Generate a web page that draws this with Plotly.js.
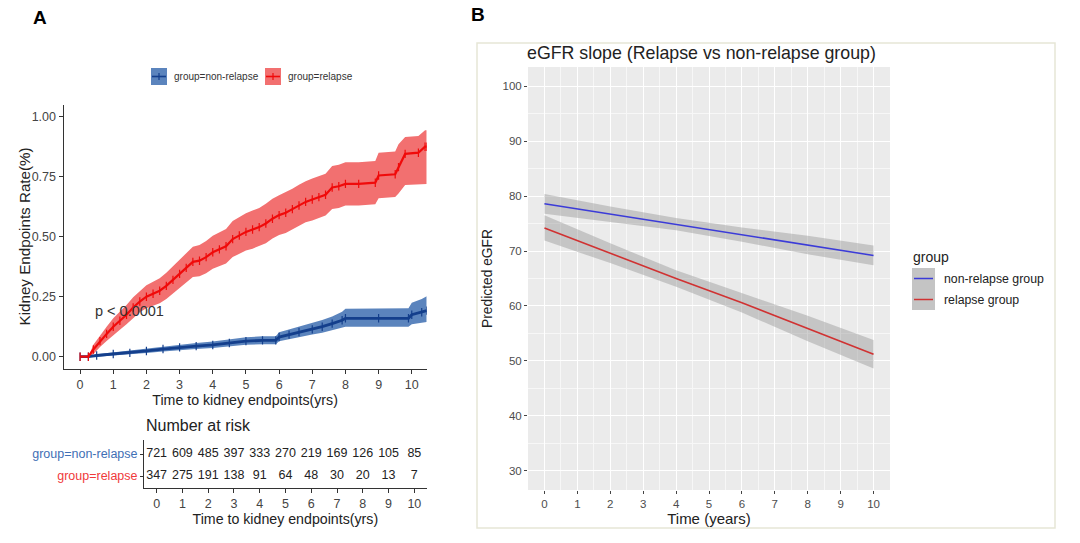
<!DOCTYPE html>
<html><head><meta charset="utf-8">
<script src="https://cdn.plot.ly/plotly-3.0.1.min.js"></script>
<style>body{margin:0;background:#fff}#chart{width:1080px;height:543px}</style>
</head><body><div id="chart"></div>
<script>
// ---------- Panel A: Kaplan-Meier cumulative incidence ----------
const timesNonRelapse = [0, 0.25, 0.5, 1.0, 1.5, 2.0, 2.5, 3.0, 3.5, 4.0, 4.5, 5.0, 5.5, 5.9, 6.0, 6.3, 6.6, 7.0, 7.3, 7.6, 7.9, 8.0, 9.0, 9.9, 10.0, 10.3, 10.45];
const rateNonRelapse  = [0, 0, 0.005, 0.011, 0.016, 0.024, 0.032, 0.039, 0.044, 0.049, 0.057, 0.065, 0.068, 0.068, 0.082, 0.092, 0.103, 0.114, 0.125, 0.138, 0.152, 0.16, 0.16, 0.16, 0.175, 0.185, 0.192];
const upperNonRelapse = [0, 0, 0.01, 0.018, 0.024, 0.034, 0.043, 0.051, 0.057, 0.063, 0.072, 0.081, 0.085, 0.085, 0.102, 0.114, 0.127, 0.14, 0.153, 0.168, 0.187, 0.2, 0.2, 0.202, 0.225, 0.24, 0.252];
const lowerNonRelapse = [0, 0, 0.0, 0.005, 0.009, 0.015, 0.022, 0.028, 0.032, 0.036, 0.043, 0.05, 0.052, 0.052, 0.064, 0.073, 0.083, 0.092, 0.1, 0.11, 0.12, 0.125, 0.125, 0.125, 0.135, 0.14, 0.145];

const timesRelapse = [0, 0.25, 0.4, 0.6, 0.8, 1.0, 1.2, 1.4, 1.6, 1.8, 2.0, 2.2, 2.4, 2.6, 2.8, 3.0, 3.2, 3.4, 3.6, 3.8, 4.0, 4.2, 4.4, 4.6, 4.8, 5.0, 5.2, 5.4, 5.6, 5.8, 6.0, 6.2, 6.4, 6.6, 6.8, 7.0, 7.2, 7.4, 7.6, 7.8, 8.0, 8.4, 8.9, 9.0, 9.5, 9.6, 9.8, 10.2, 10.4, 10.45];
const rateRelapse  = [0, 0, 0.03, 0.065, 0.095, 0.125, 0.15, 0.175, 0.205, 0.23, 0.25, 0.262, 0.275, 0.295, 0.32, 0.345, 0.37, 0.395, 0.4, 0.415, 0.435, 0.447, 0.46, 0.49, 0.505, 0.52, 0.53, 0.54, 0.555, 0.575, 0.59, 0.6, 0.615, 0.63, 0.645, 0.655, 0.665, 0.675, 0.705, 0.71, 0.72, 0.72, 0.725, 0.755, 0.76, 0.79, 0.845, 0.85, 0.875, 0.875];
const upperRelapse = [0, 0, 0.05, 0.09, 0.125, 0.16, 0.188, 0.215, 0.248, 0.275, 0.298, 0.312, 0.327, 0.35, 0.377, 0.404, 0.431, 0.458, 0.465, 0.482, 0.504, 0.518, 0.532, 0.565, 0.582, 0.598, 0.609, 0.62, 0.637, 0.658, 0.673, 0.685, 0.7, 0.716, 0.731, 0.742, 0.752, 0.762, 0.795, 0.8, 0.81, 0.81, 0.815, 0.85, 0.855, 0.885, 0.915, 0.92, 0.944, 0.944];
const lowerRelapse = [0, 0, 0.01, 0.04, 0.065, 0.09, 0.112, 0.135, 0.162, 0.185, 0.202, 0.212, 0.223, 0.24, 0.263, 0.286, 0.309, 0.332, 0.335, 0.348, 0.366, 0.376, 0.388, 0.415, 0.428, 0.442, 0.45, 0.46, 0.473, 0.492, 0.507, 0.515, 0.53, 0.545, 0.56, 0.568, 0.578, 0.588, 0.615, 0.62, 0.63, 0.63, 0.635, 0.66, 0.665, 0.68, 0.715, 0.72, 0.72, 0.72];

// Number-at-risk table
const riskTimes = [0, 1, 2, 3, 4, 5, 6, 7, 8, 9, 10];
const riskNonRelapse = [721, 609, 485, 397, 333, 270, 219, 169, 126, 105, 85];
const riskRelapse = [347, 275, 191, 138, 91, 64, 48, 30, 20, 13, 7];
const riskRowLabels = ['group=relapse', 'group=non-relapse'];

// ---------- Panel B: eGFR slope ----------
const slopeYears = [0, 2, 4, 6, 8, 10];
const egfrNonRelapse = [78.6, 76.7, 74.9, 73.0, 71.1, 69.2];
const egfrNonRelapseUpper = [80.4, 78.1, 76.0, 74.3, 72.8, 71.0];
const egfrNonRelapseLower = [76.8, 75.3, 73.8, 71.7, 69.4, 67.4];
const egfrRelapse = [74.2, 69.6, 65.0, 60.6, 55.9, 51.2];
const egfrRelapseUpper = [76.5, 71.4, 66.5, 62.4, 58.2, 53.8];
const egfrRelapseLower = [71.9, 67.8, 63.5, 58.8, 53.6, 48.6];

const W = 1080, H = 543;
const px = x => x / W, py = y => 1 - y / H;

const BLUE_LINE = '#143F8C', BLUE_BAND = '#5B84BD';
const RED_LINE = '#F00A0A', RED_BAND = '#F27070';
const GREY_BAND = 'rgba(150,150,150,0.45)';

const skip = {hoverinfo: 'skip', showlegend: false};
const traces = [
  Object.assign({x: timesNonRelapse, y: lowerNonRelapse, mode: 'lines', line: {width: 0}, xaxis: 'x', yaxis: 'y'}, skip),
  Object.assign({x: timesNonRelapse, y: upperNonRelapse, mode: 'lines', fill: 'tonexty', fillcolor: BLUE_BAND, line: {width: 0}, xaxis: 'x', yaxis: 'y'}, skip),
  Object.assign({x: timesRelapse, y: lowerRelapse, mode: 'lines', line: {width: 0}, xaxis: 'x', yaxis: 'y'}, skip),
  Object.assign({x: timesRelapse, y: upperRelapse, mode: 'lines', fill: 'tonexty', fillcolor: RED_BAND, line: {width: 0}, xaxis: 'x', yaxis: 'y'}, skip),
  Object.assign({x: timesNonRelapse, y: rateNonRelapse, mode: 'lines+markers', line: {width: 2.8, color: BLUE_LINE},
    marker: {symbol: 'line-ns-open', size: 6, line: {width: 1.2, color: BLUE_LINE}}, xaxis: 'x', yaxis: 'y'}, skip),
  Object.assign({x: timesRelapse, y: rateRelapse, mode: 'lines+markers', line: {width: 2.2, color: RED_LINE},
    marker: {symbol: 'line-ns-open', size: 6, line: {width: 1.2, color: RED_LINE}}, xaxis: 'x', yaxis: 'y'}, skip),
  Object.assign({x: riskTimes, y: riskTimes.map(() => 1), text: riskNonRelapse.map(String), mode: 'text', textfont: {size: 12.5, color: '#222', family: 'Liberation Sans, Arial'}, xaxis: 'x2', yaxis: 'y2'}, skip),
  Object.assign({x: riskTimes, y: riskTimes.map(() => 0), text: riskRelapse.map(String), mode: 'text', textfont: {size: 12.5, color: '#222', family: 'Liberation Sans, Arial'}, xaxis: 'x2', yaxis: 'y2'}, skip),
  Object.assign({x: slopeYears, y: egfrNonRelapseLower, mode: 'lines', line: {width: 0}, xaxis: 'x3', yaxis: 'y3'}, skip),
  Object.assign({x: slopeYears, y: egfrNonRelapseUpper, mode: 'lines', fill: 'tonexty', fillcolor: GREY_BAND, line: {width: 0}, xaxis: 'x3', yaxis: 'y3'}, skip),
  Object.assign({x: slopeYears, y: egfrRelapseLower, mode: 'lines', line: {width: 0}, xaxis: 'x3', yaxis: 'y3'}, skip),
  Object.assign({x: slopeYears, y: egfrRelapseUpper, mode: 'lines', fill: 'tonexty', fillcolor: GREY_BAND, line: {width: 0}, xaxis: 'x3', yaxis: 'y3'}, skip),
  Object.assign({x: slopeYears, y: egfrNonRelapse, mode: 'lines', line: {width: 1.6, color: '#3B3BD8'}, xaxis: 'x3', yaxis: 'y3'}, skip),
  Object.assign({x: slopeYears, y: egfrRelapse, mode: 'lines', line: {width: 1.6, color: '#D03232'}, xaxis: 'x3', yaxis: 'y3'}, skip)
];

const FONT = 'Liberation Sans, Arial, sans-serif';
const axA = {
  showline: true, linecolor: '#333', linewidth: 1, ticks: 'outside', ticklen: 4, tickcolor: '#333',
  tickfont: {size: 12.5, color: '#444'}, showgrid: false, zeroline: false
};
const axB = {
  showline: false, ticks: 'outside', ticklen: 3, tickcolor: '#444', tickwidth: 1,
  tickfont: {size: 11.5, color: '#4D4D4D'}, showgrid: true, gridcolor: '#FFFFFF', gridwidth: 1.1, zeroline: false
};

const layout = {
  width: W, height: H, margin: {l: 0, r: 0, t: 0, b: 0},
  paper_bgcolor: '#FFFFFF', plot_bgcolor: 'rgba(0,0,0,0)',
  font: {family: FONT, color: '#222'},
  showlegend: false,
  xaxis: Object.assign({}, axA, {domain: [px(63.5), px(426.7)], range: [-0.5, 10.45], tickvals: riskTimes, anchor: 'y',
    title: {text: 'Time to kidney endpoints(yrs)', font: {size: 14.2, color: '#222'}, standoff: 1}}),
  yaxis: Object.assign({}, axA, {domain: [py(368.7), py(104.7)], range: [-0.05, 1.05], tickvals: [0, 0.25, 0.5, 0.75, 1], ticktext: ['0.00', '0.25', '0.50', '0.75', '1.00'], anchor: 'x'}),
  xaxis2: Object.assign({}, axA, {domain: [px(144), px(426.7)], range: [-0.49, 10.48], tickvals: riskTimes, anchor: 'y2',
    title: {text: 'Time to kidney endpoints(yrs)', font: {size: 14.2, color: '#222'}, standoff: 1}}),
  yaxis2: Object.assign({}, axA, {domain: [py(488), py(440)], range: [-0.545, 1.636], tickvals: [0, 1], anchor: 'x2',
    ticklen: 3,
    ticktext: ['<span style="color:#F0393B">' + riskRowLabels[0] + '</span>', '<span style="color:#3F6FB5">' + riskRowLabels[1] + '</span>']}),
  xaxis3: Object.assign({}, axB, {domain: [px(528), px(890)], range: [-0.5, 10.5], dtick: 1, tick0: 0, anchor: 'y3',
    minor: {dtick: 0.5, tick0: 0, showgrid: true, gridcolor: '#F7F7F7', gridwidth: 0.6},
    title: {text: 'Time (years)', font: {size: 15, color: '#222'}, standoff: 3}}),
  yaxis3: Object.assign({}, axB, {domain: [py(490), py(67)], range: [26.5, 103.5], dtick: 10, tick0: 0, anchor: 'x3',
    minor: {dtick: 5, tick0: 0, showgrid: true, gridcolor: '#F7F7F7', gridwidth: 0.6},
    title: {text: 'Predicted eGFR', font: {size: 13.8, color: '#222'}, standoff: 6}}),
  shapes: [
    {type: 'rect', xref: 'x3 domain', yref: 'y3 domain', x0: 0, x1: 1, y0: 0, y1: 1, fillcolor: '#EBEBEB', line: {width: 0}, layer: 'below'},
    {type: 'rect', xref: 'paper', yref: 'paper', x0: px(477), x1: px(1055), y0: py(528), y1: py(43), line: {color: '#E6E6D6', width: 1.5}, fillcolor: 'rgba(0,0,0,0)', layer: 'below'},
    // legend A keys
    {type: 'rect', xref: 'paper', yref: 'paper', x0: px(151), x1: px(167), y0: py(85), y1: py(68), fillcolor: BLUE_BAND, line: {width: 0}},
    {type: 'line', xref: 'paper', yref: 'paper', x0: px(152), x1: px(166), y0: py(76.5), y1: py(76.5), line: {color: BLUE_LINE, width: 1.6}},
    {type: 'line', xref: 'paper', yref: 'paper', x0: px(159), x1: px(159), y0: py(73), y1: py(80), line: {color: BLUE_LINE, width: 1.2}},
    {type: 'rect', xref: 'paper', yref: 'paper', x0: px(265), x1: px(281), y0: py(85), y1: py(68), fillcolor: RED_BAND, line: {width: 0}},
    {type: 'line', xref: 'paper', yref: 'paper', x0: px(266), x1: px(280), y0: py(76.5), y1: py(76.5), line: {color: RED_LINE, width: 1.6}},
    {type: 'line', xref: 'paper', yref: 'paper', x0: px(273), x1: px(273), y0: py(73), y1: py(80), line: {color: RED_LINE, width: 1.2}},
    // legend B keys
    {type: 'rect', xref: 'paper', yref: 'paper', x0: px(912), x1: px(935), y0: py(289), y1: py(268), fillcolor: '#C4C4C4', line: {width: 0}},
    {type: 'line', xref: 'paper', yref: 'paper', x0: px(914), x1: px(933), y0: py(278.5), y1: py(278.5), line: {color: '#3B3BD8', width: 1.5}},
    {type: 'rect', xref: 'paper', yref: 'paper', x0: px(912), x1: px(935), y0: py(310), y1: py(289), fillcolor: '#C4C4C4', line: {width: 0}},
    {type: 'line', xref: 'paper', yref: 'paper', x0: px(914), x1: px(933), y0: py(299.5), y1: py(299.5), line: {color: '#D03232', width: 1.5}}
  ],
  annotations: [
    {text: '<b>A</b>', xref: 'paper', yref: 'paper', x: px(39.5), y: py(17), xanchor: 'center', yanchor: 'middle', showarrow: false, font: {size: 19, color: '#000'}},
    {text: '<b>B</b>', xref: 'paper', yref: 'paper', x: px(478), y: py(14), xanchor: 'center', yanchor: 'middle', showarrow: false, font: {size: 19, color: '#000'}},
    {text: 'Kidney Endpoints Rate(%)', xref: 'paper', yref: 'paper', x: px(23.5), y: py(237), xanchor: 'center', yanchor: 'middle', textangle: -90, showarrow: false, font: {size: 15.2, color: '#222'}},
    {text: 'group=non-relapse', xref: 'paper', yref: 'paper', x: px(172), y: py(76.5), xanchor: 'left', yanchor: 'middle', showarrow: false, font: {size: 10, color: '#333'}},
    {text: 'group=relapse', xref: 'paper', yref: 'paper', x: px(286), y: py(76.5), xanchor: 'left', yanchor: 'middle', showarrow: false, font: {size: 10, color: '#333'}},
    {text: 'p < 0.0001', xref: 'x', yref: 'y', x: 0.4, y: 0.19, xanchor: 'left', yanchor: 'middle', showarrow: false, font: {size: 14.5, color: '#333'}},
    {text: 'Number at risk', xref: 'paper', yref: 'paper', x: px(144), y: py(425), xanchor: 'left', yanchor: 'middle', showarrow: false, font: {size: 16, color: '#222'}},
    {text: 'eGFR slope (Relapse vs non-relapse group)', xref: 'paper', yref: 'paper', x: px(701), y: py(53), xanchor: 'center', yanchor: 'middle', showarrow: false, font: {size: 17.8, color: '#222'}},
    {text: 'group', xref: 'paper', yref: 'paper', x: px(911), y: py(257), xanchor: 'left', yanchor: 'middle', showarrow: false, font: {size: 14, color: '#222'}},
    {text: 'non-relapse group', xref: 'paper', yref: 'paper', x: px(942), y: py(279), xanchor: 'left', yanchor: 'middle', showarrow: false, font: {size: 12.3, color: '#222'}},
    {text: 'relapse group', xref: 'paper', yref: 'paper', x: px(942), y: py(300), xanchor: 'left', yanchor: 'middle', showarrow: false, font: {size: 12.3, color: '#222'}}
  ]
};

Plotly.newPlot('chart', traces, layout, {displayModeBar: false, responsive: false});
</script>
</body></html>
